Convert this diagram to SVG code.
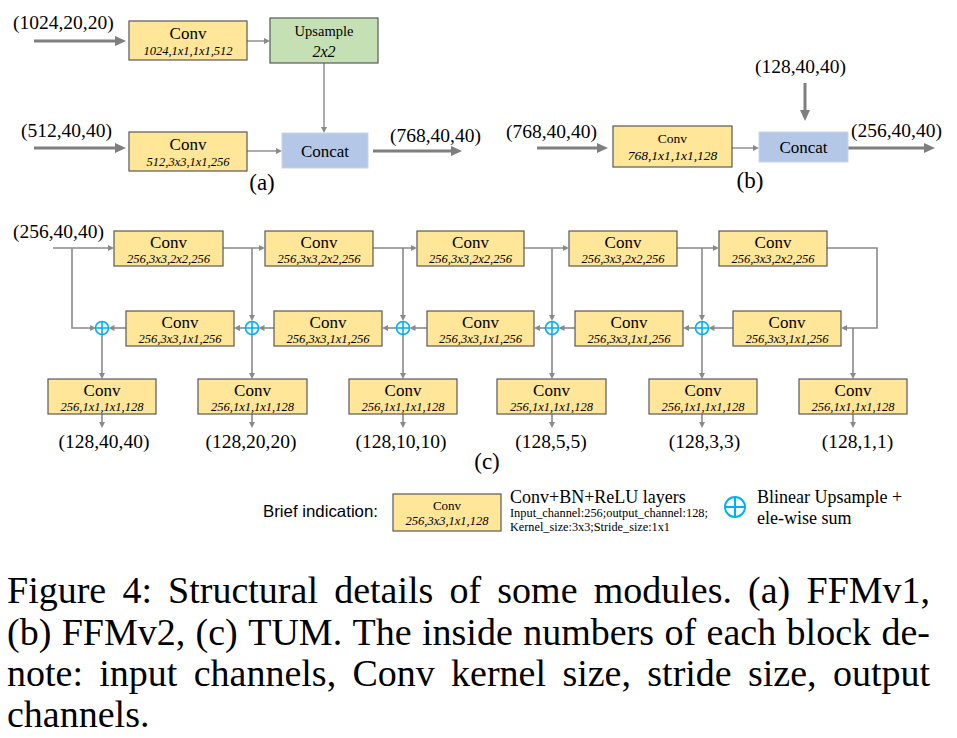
<svg xmlns="http://www.w3.org/2000/svg" width="957" height="738" viewBox="0 0 957 738">
<style>
.t{font-family:"Liberation Serif","Times New Roman",serif;fill:#000}
.box{fill:#ffe699;stroke:#595959;stroke-width:1.2}
.up{fill:#c5e0b4;stroke:#595959;stroke-width:1.2}
.cat{fill:#b4c7e7;stroke:#c9d3e6;stroke-width:1}
.c{font-size:17px;text-anchor:middle}
.p{font-size:12.5px;font-style:italic;text-anchor:middle}
.lbl{font-size:19.5px}
.lc{font-size:19.5px;text-anchor:middle}
.thick{stroke:#7f7f7f;stroke-width:3;fill:none;marker-end:url(#ah)}
.thin{stroke:#8a8a8a;stroke-width:1.4;fill:none;marker-end:url(#as)}
.ln{stroke:#8a8a8a;stroke-width:1.6;fill:none}
.arr{stroke:#8a8a8a;stroke-width:1.6;fill:none;marker-end:url(#as)}
.plus{fill:#fff;stroke:#00b0f0;stroke-width:1.6}
.cap{font-size:38px}
</style>
<defs>
<marker id="ah" markerUnits="userSpaceOnUse" markerWidth="11" markerHeight="10" refX="3" refY="5" orient="auto"><path d="M0,0 L11,5 L0,10 z" fill="#7f7f7f"/></marker>
<marker id="as" markerUnits="userSpaceOnUse" markerWidth="6" markerHeight="6" refX="1" refY="3" orient="auto"><path d="M0,0 L6,3 L0,6 z" fill="#8a8a8a"/></marker>
<g id="op"><circle class="plus" r="6.5"/><path d="M-6.5,0 H6.5 M0,-6.5 V6.5" stroke="#00b0f0" stroke-width="1.6"/></g>
</defs>
<rect width="957" height="738" fill="#fff"/>

<g id="connectors">
<!-- (a) -->
<path class="thick" d="M34,41 H118"/>
<path class="thin" d="M247,41 H265"/>
<path class="thin" d="M324,63 V128"/>
<path class="thick" d="M34,148 H118"/>
<path class="thin" d="M247,151 H277"/>
<path class="thick" d="M373,151 H454"/>
<!-- (b) -->
<path class="thick" d="M805,83 V113"/>
<path class="thick" d="M537,148 H600"/>
<path class="thin" d="M732,148 H754"/>
<path class="thick" d="M848,148 H927"/>
<!-- (c) top row -->
<path class="arr" d="M53,248 H109"/>
<path class="arr" d="M72,248 V328 H91"/>
<path class="arr" d="M223,248 H260"/>
<path class="arr" d="M252,248 V316"/>
<path class="arr" d="M373,248 H412"/>
<path class="arr" d="M403,248 V316"/>
<path class="arr" d="M524,248 H564"/>
<path class="arr" d="M552,248 V316"/>
<path class="arr" d="M677,248 H714"/>
<path class="arr" d="M702,248 V316"/>
<path class="arr" d="M827,248 H877 V328 H846"/>
<path class="arr" d="M853,328 V374"/>
<!-- (c) middle row -->
<path class="arr" d="M733,328 H713.5"/>
<path class="arr" d="M695.5,328 H688"/>
<path class="arr" d="M575,328 H563.5"/>
<path class="arr" d="M545.5,328 H539"/>
<path class="arr" d="M427,328 H414.5"/>
<path class="arr" d="M396.5,328 H387"/>
<path class="arr" d="M274,328 H263.5"/>
<path class="arr" d="M245.5,328 H239"/>
<path class="arr" d="M126,328 H113.5"/>
<!-- (c) down to bottom -->
<path class="arr" d="M102,334.5 V374"/>
<path class="arr" d="M252,334.5 V374"/>
<path class="arr" d="M403,334.5 V374"/>
<path class="arr" d="M552,334.5 V374"/>
<path class="arr" d="M702,334.5 V374"/>
<!-- outputs -->
<path class="arr" d="M102,414 V423"/>
<path class="arr" d="M252,414 V423"/>
<path class="arr" d="M403,414 V423"/>
<path class="arr" d="M552,414 V423"/>
<path class="arr" d="M702,414 V423"/>
<path class="arr" d="M853,414 V423"/>
</g>

<!-- (a) FFMv1 -->
<g id="a-conv1"><rect class="box" x="129" y="21" width="118" height="39"/><text class="t c" x="188" y="39">Conv</text><text class="t p" x="188" y="55">1024,1x1,1x1,512</text></g>
<g id="a-up"><rect class="up" x="270" y="18" width="108" height="45"/><text class="t" x="324" y="36" font-size="14.5" text-anchor="middle">Upsample</text><text class="t" x="324" y="57" font-size="16" font-style="italic" text-anchor="middle">2x2</text></g>
<g id="a-conv2"><rect class="box" x="129" y="132" width="118" height="39"/><text class="t c" x="188" y="150">Conv</text><text class="t p" x="188" y="166">512,3x3,1x1,256</text></g>
<g id="a-concat"><rect class="cat" x="282" y="133" width="86" height="35"/><text class="t c" x="325" y="157">Concat</text></g>
<g id="a-labels">
<text class="t lbl" x="13" y="29">(1024,20,20)</text>
<text class="t lbl" x="21" y="137">(512,40,40)</text>
<text class="t lbl" x="390" y="142">(768,40,40)</text>
<text class="t" x="262" y="190" font-size="23" text-anchor="middle">(a)</text>
</g>

<!-- (b) FFMv2 -->
<g id="b-conv"><rect class="box" x="613" y="126" width="119" height="41"/><text class="t" x="672.5" y="143" font-size="13.5" text-anchor="middle">Conv</text><text class="t" x="672.5" y="160" font-size="13.5" font-style="italic" text-anchor="middle">768,1x1,1x1,128</text></g>
<g id="b-concat"><rect class="cat" x="759" y="132" width="89" height="30"/><text class="t c" x="803.5" y="153">Concat</text></g>
<g id="b-labels">
<text class="t lbl" x="755" y="73">(128,40,40)</text>
<text class="t lbl" x="506" y="138">(768,40,40)</text>
<text class="t lbl" x="851" y="137">(256,40,40)</text>
<text class="t" x="750" y="188" font-size="23" text-anchor="middle">(b)</text>
</g>

<!-- (c) TUM top row -->
<g id="c-t1"><rect class="box" x="114" y="231" width="109" height="35"/><text class="t c" x="168.5" y="248">Conv</text><text class="t p" x="168.5" y="263">256,3x3,2x2,256</text></g>
<g id="c-t2"><rect class="box" x="265" y="231" width="108" height="35"/><text class="t c" x="319" y="248">Conv</text><text class="t p" x="319" y="263">256,3x3,2x2,256</text></g>
<g id="c-t3"><rect class="box" x="417" y="231" width="107" height="35"/><text class="t c" x="470.5" y="248">Conv</text><text class="t p" x="470.5" y="263">256,3x3,2x2,256</text></g>
<g id="c-t4"><rect class="box" x="569" y="231" width="108" height="35"/><text class="t c" x="623" y="248">Conv</text><text class="t p" x="623" y="263">256,3x3,2x2,256</text></g>
<g id="c-t5"><rect class="box" x="719" y="231" width="108" height="35"/><text class="t c" x="773" y="248">Conv</text><text class="t p" x="773" y="263">256,3x3,2x2,256</text></g>
<!-- middle row -->
<g id="c-m1"><rect class="box" x="126" y="311" width="108" height="35"/><text class="t c" x="180" y="328">Conv</text><text class="t p" x="180" y="343">256,3x3,1x1,256</text></g>
<g id="c-m2"><rect class="box" x="274" y="311" width="108" height="35"/><text class="t c" x="328" y="328">Conv</text><text class="t p" x="328" y="343">256,3x3,1x1,256</text></g>
<g id="c-m3"><rect class="box" x="427" y="311" width="107" height="35"/><text class="t c" x="480.5" y="328">Conv</text><text class="t p" x="480.5" y="343">256,3x3,1x1,256</text></g>
<g id="c-m4"><rect class="box" x="575" y="311" width="108" height="35"/><text class="t c" x="629" y="328">Conv</text><text class="t p" x="629" y="343">256,3x3,1x1,256</text></g>
<g id="c-m5"><rect class="box" x="733" y="311" width="108" height="35"/><text class="t c" x="787" y="328">Conv</text><text class="t p" x="787" y="343">256,3x3,1x1,256</text></g>
<!-- sums -->
<g id="c-s1"><use href="#op" x="102" y="328"/></g>
<g id="c-s2"><use href="#op" x="252" y="328"/></g>
<g id="c-s3"><use href="#op" x="403" y="328"/></g>
<g id="c-s4"><use href="#op" x="552" y="328"/></g>
<g id="c-s5"><use href="#op" x="702" y="328"/></g>
<!-- bottom row -->
<g id="c-b1"><rect class="box" x="48" y="379" width="108" height="35"/><text class="t c" x="102" y="396">Conv</text><text class="t p" x="102" y="411">256,1x1,1x1,128</text></g>
<g id="c-b2"><rect class="box" x="198" y="379" width="109" height="35"/><text class="t c" x="252.5" y="396">Conv</text><text class="t p" x="252.5" y="411">256,1x1,1x1,128</text></g>
<g id="c-b3"><rect class="box" x="349" y="379" width="108" height="35"/><text class="t c" x="403" y="396">Conv</text><text class="t p" x="403" y="411">256,1x1,1x1,128</text></g>
<g id="c-b4"><rect class="box" x="497" y="379" width="109" height="35"/><text class="t c" x="551.5" y="396">Conv</text><text class="t p" x="551.5" y="411">256,1x1,1x1,128</text></g>
<g id="c-b5"><rect class="box" x="649" y="379" width="108" height="35"/><text class="t c" x="703" y="396">Conv</text><text class="t p" x="703" y="411">256,1x1,1x1,128</text></g>
<g id="c-b6"><rect class="box" x="799" y="379" width="108" height="35"/><text class="t c" x="853" y="396">Conv</text><text class="t p" x="853" y="411">256,1x1,1x1,128</text></g>
<g id="c-labels">
<text class="t lbl" x="13" y="238">(256,40,40)</text>
<text class="t lc" x="104" y="448">(128,40,40)</text>
<text class="t lc" x="251" y="448">(128,20,20)</text>
<text class="t lc" x="401" y="448">(128,10,10)</text>
<text class="t lc" x="551" y="448">(128,5,5)</text>
<text class="t lc" x="704.5" y="448">(128,3,3)</text>
<text class="t lc" x="857.5" y="448">(128,1,1)</text>
<text class="t" x="487" y="469" font-size="23" text-anchor="middle">(c)</text>
</g>

<!-- legend -->
<g id="legend">
<text x="263" y="517" font-family="'Liberation Sans',Arial,sans-serif" font-size="16.5" textLength="115" lengthAdjust="spacingAndGlyphs">Brief indication:</text>
<rect class="box" x="393" y="494" width="108" height="37"/>
<text class="t" x="447" y="510" font-size="13" text-anchor="middle">Conv</text>
<text class="t p" x="447" y="525">256,3x3,1x1,128</text>
<text class="t" x="510" y="503" font-size="18">Conv+BN+ReLU layers</text>
<text class="t" x="510" y="517" font-size="12" textLength="198" lengthAdjust="spacingAndGlyphs">Input_channel:256;output_channel:128;</text>
<text class="t" x="510" y="531" font-size="12" textLength="160" lengthAdjust="spacingAndGlyphs">Kernel_size:3x3;Stride_size:1x1</text>
<circle cx="735" cy="507" r="10" fill="#fff" stroke="#00b0f0" stroke-width="2"/>
<path d="M725,507 H745 M735,497 V517" stroke="#00b0f0" stroke-width="2"/>
<text class="t" x="757" y="503" font-size="18">Blinear Upsample +</text>
<text class="t" x="757" y="524" font-size="18">ele-wise sum</text>
</g>

<!-- caption -->
<g id="caption" class="t cap">
<text y="603"><tspan x="7">Figure</tspan><tspan x="122.4">4:</tspan><tspan x="168.1">Structural</tspan><tspan x="334.2">details</tspan><tspan x="449.5">of</tspan><tspan x="497.3">some</tspan><tspan x="593.7">modules.</tspan><tspan x="748.1">(a)</tspan><tspan x="806.5">FFMv1,</tspan></text>
<text y="644.5"><tspan x="7">(b)</tspan><tspan x="61.7">FFMv2,</tspan><tspan x="195.6">(c)</tspan><tspan x="248.2">TUM.</tspan><tspan x="352.5">The</tspan><tspan x="422">inside</tspan><tspan x="523.2">numbers</tspan><tspan x="664.5">of</tspan><tspan x="706.6">each</tspan><tspan x="786.6">block</tspan><tspan x="881.4">de-</tspan></text>
<text y="686"><tspan x="7">note:</tspan><tspan x="99.3">input</tspan><tspan x="193.7">channels,</tspan><tspan x="352.5">Conv</tspan><tspan x="451.1">kernel</tspan><tspan x="562.4">size,</tspan><tspan x="647.3">stride</tspan><tspan x="748">size,</tspan><tspan x="832.9">output</tspan></text>
<text y="727"><tspan x="7">channels.</tspan></text>
</g>
</svg>
